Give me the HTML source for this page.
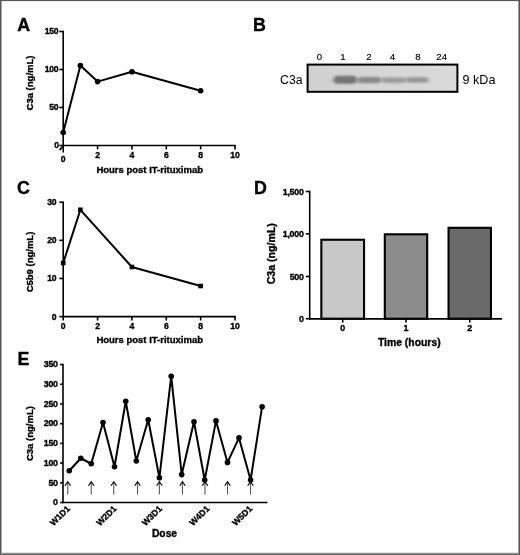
<!DOCTYPE html>
<html lang="en">
<head>
<meta charset="utf-8">
<title>Figure</title>
<style>
html,body{margin:0;padding:0;background:#fff;}
body{width:520px;height:555px;overflow:hidden;position:relative;}
svg{position:absolute;left:0;top:0;font-family:"Liberation Sans", sans-serif;}
</style>
</head>
<body>
<svg width="520" height="555" viewBox="0 0 520 555" style="font-family:'Liberation Sans', sans-serif">
<text x="23.7" y="30.8" font-size="17.8" font-weight="bold" text-anchor="middle" fill="#000" stroke="#000" stroke-width="0.35">A</text>
<line x1="63.2" y1="30.7" x2="63.2" y2="146.3" stroke="#000" stroke-width="1.6" stroke-linecap="butt"/>
<line x1="62.4" y1="145.5" x2="235.8" y2="145.5" stroke="#000" stroke-width="1.6" stroke-linecap="butt"/>
<line x1="59.3" y1="31.5" x2="63.2" y2="31.5" stroke="#000" stroke-width="1.6" stroke-linecap="butt"/>
<text x="58.3" y="33.8" font-size="8.6" font-weight="bold" text-anchor="end" fill="#000" letter-spacing="-0.25" stroke="#000" stroke-width="0.35">150</text>
<line x1="59.3" y1="69.5" x2="63.2" y2="69.5" stroke="#000" stroke-width="1.6" stroke-linecap="butt"/>
<text x="58.3" y="71.8" font-size="8.6" font-weight="bold" text-anchor="end" fill="#000" letter-spacing="-0.25" stroke="#000" stroke-width="0.35">100</text>
<line x1="59.3" y1="107.5" x2="63.2" y2="107.5" stroke="#000" stroke-width="1.6" stroke-linecap="butt"/>
<text x="58.3" y="109.8" font-size="8.6" font-weight="bold" text-anchor="end" fill="#000" letter-spacing="-0.25" stroke="#000" stroke-width="0.35">50</text>
<line x1="59.3" y1="145.5" x2="63.2" y2="145.5" stroke="#000" stroke-width="1.6" stroke-linecap="butt"/>
<text x="58.9" y="148.4" font-size="8.6" font-weight="bold" text-anchor="end" fill="#000" letter-spacing="-0.25" stroke="#000" stroke-width="0.35">0</text>
<line x1="63.2" y1="145.5" x2="63.2" y2="152.5" stroke="#000" stroke-width="1.6" stroke-linecap="butt"/>
<line x1="63.8" y1="145.3" x2="59.6" y2="150.1" stroke="#000" stroke-width="1.6" stroke-linecap="butt"/>
<text x="63.2" y="162.1" font-size="8.6" font-weight="bold" text-anchor="middle" fill="#000" stroke="#000" stroke-width="0.35">0</text>
<line x1="97.56" y1="145.5" x2="97.56" y2="149.4" stroke="#000" stroke-width="1.6" stroke-linecap="butt"/>
<text x="97.56" y="158.2" font-size="8.6" font-weight="bold" text-anchor="middle" fill="#000" stroke="#000" stroke-width="0.35">2</text>
<line x1="131.92" y1="145.5" x2="131.92" y2="149.4" stroke="#000" stroke-width="1.6" stroke-linecap="butt"/>
<text x="131.92" y="158.2" font-size="8.6" font-weight="bold" text-anchor="middle" fill="#000" stroke="#000" stroke-width="0.35">4</text>
<line x1="166.28" y1="145.5" x2="166.28" y2="149.4" stroke="#000" stroke-width="1.6" stroke-linecap="butt"/>
<text x="166.28" y="158.2" font-size="8.6" font-weight="bold" text-anchor="middle" fill="#000" stroke="#000" stroke-width="0.35">6</text>
<line x1="200.64" y1="145.5" x2="200.64" y2="149.4" stroke="#000" stroke-width="1.6" stroke-linecap="butt"/>
<text x="200.64" y="158.2" font-size="8.6" font-weight="bold" text-anchor="middle" fill="#000" stroke="#000" stroke-width="0.35">8</text>
<line x1="235" y1="145.5" x2="235" y2="149.4" stroke="#000" stroke-width="1.6" stroke-linecap="butt"/>
<text x="235" y="158.2" font-size="8.6" font-weight="bold" text-anchor="middle" fill="#000" stroke="#000" stroke-width="0.35">10</text>
<text x="33" y="83" font-size="9.5" font-weight="bold" text-anchor="middle" fill="#000" transform="rotate(-90 33 83)" stroke="#000" stroke-width="0.35">C3a (ng/mL)</text>
<text x="149.7" y="173.3" font-size="9.5" font-weight="bold" text-anchor="middle" fill="#000" stroke="#000" stroke-width="0.35">Hours post IT-rituximab</text>
<polyline points="63.2,132.5 80.38,65.6 97.56,81.6 131.92,71.8 200.64,90.7" fill="none" stroke="#000" stroke-width="2" stroke-linejoin="round"/>
<circle cx="63.2" cy="132.5" r="2.8" fill="#000"/>
<circle cx="80.38" cy="65.6" r="2.8" fill="#000"/>
<circle cx="97.56" cy="81.6" r="2.8" fill="#000"/>
<circle cx="131.92" cy="71.8" r="2.8" fill="#000"/>
<circle cx="200.64" cy="90.7" r="2.8" fill="#000"/>
<text x="23.4" y="194.4" font-size="17.8" font-weight="bold" text-anchor="middle" fill="#000" stroke="#000" stroke-width="0.35">C</text>
<line x1="63.2" y1="201.4" x2="63.2" y2="317.4" stroke="#000" stroke-width="1.6" stroke-linecap="butt"/>
<line x1="62.4" y1="316.6" x2="235.8" y2="316.6" stroke="#000" stroke-width="1.6" stroke-linecap="butt"/>
<line x1="59.3" y1="202.21" x2="63.2" y2="202.21" stroke="#000" stroke-width="1.6" stroke-linecap="butt"/>
<text x="56.4" y="205.16" font-size="8.6" font-weight="bold" text-anchor="end" fill="#000" letter-spacing="-0.25" stroke="#000" stroke-width="0.35">30</text>
<line x1="59.3" y1="240.34" x2="63.2" y2="240.34" stroke="#000" stroke-width="1.6" stroke-linecap="butt"/>
<text x="56.4" y="243.29" font-size="8.6" font-weight="bold" text-anchor="end" fill="#000" letter-spacing="-0.25" stroke="#000" stroke-width="0.35">20</text>
<line x1="59.3" y1="278.47" x2="63.2" y2="278.47" stroke="#000" stroke-width="1.6" stroke-linecap="butt"/>
<text x="56.4" y="281.42" font-size="8.6" font-weight="bold" text-anchor="end" fill="#000" letter-spacing="-0.25" stroke="#000" stroke-width="0.35">10</text>
<line x1="59.3" y1="316.6" x2="63.2" y2="316.6" stroke="#000" stroke-width="1.6" stroke-linecap="butt"/>
<text x="56.4" y="319.55" font-size="8.6" font-weight="bold" text-anchor="end" fill="#000" letter-spacing="-0.25" stroke="#000" stroke-width="0.35">0</text>
<line x1="63.2" y1="316.6" x2="63.2" y2="320.5" stroke="#000" stroke-width="1.6" stroke-linecap="butt"/>
<text x="63.2" y="329.4" font-size="8.6" font-weight="bold" text-anchor="middle" fill="#000" stroke="#000" stroke-width="0.35">0</text>
<line x1="97.56" y1="316.6" x2="97.56" y2="320.5" stroke="#000" stroke-width="1.6" stroke-linecap="butt"/>
<text x="97.56" y="329.4" font-size="8.6" font-weight="bold" text-anchor="middle" fill="#000" stroke="#000" stroke-width="0.35">2</text>
<line x1="131.92" y1="316.6" x2="131.92" y2="320.5" stroke="#000" stroke-width="1.6" stroke-linecap="butt"/>
<text x="131.92" y="329.4" font-size="8.6" font-weight="bold" text-anchor="middle" fill="#000" stroke="#000" stroke-width="0.35">4</text>
<line x1="166.28" y1="316.6" x2="166.28" y2="320.5" stroke="#000" stroke-width="1.6" stroke-linecap="butt"/>
<text x="166.28" y="329.4" font-size="8.6" font-weight="bold" text-anchor="middle" fill="#000" stroke="#000" stroke-width="0.35">6</text>
<line x1="200.64" y1="316.6" x2="200.64" y2="320.5" stroke="#000" stroke-width="1.6" stroke-linecap="butt"/>
<text x="200.64" y="329.4" font-size="8.6" font-weight="bold" text-anchor="middle" fill="#000" stroke="#000" stroke-width="0.35">8</text>
<line x1="235" y1="316.6" x2="235" y2="320.5" stroke="#000" stroke-width="1.6" stroke-linecap="butt"/>
<text x="235" y="329.4" font-size="8.6" font-weight="bold" text-anchor="middle" fill="#000" stroke="#000" stroke-width="0.35">10</text>
<text x="32.5" y="262" font-size="9.5" font-weight="bold" text-anchor="middle" fill="#000" transform="rotate(-90 32.5 262)" stroke="#000" stroke-width="0.35">C5b9 (ng/mL)</text>
<text x="149.7" y="343.2" font-size="9.5" font-weight="bold" text-anchor="middle" fill="#000" stroke="#000" stroke-width="0.35">Hours post IT-rituximab</text>
<polyline points="63.2,263 80.38,209.8 131.92,267 200.64,286" fill="none" stroke="#000" stroke-width="2" stroke-linejoin="round"/>
<rect x="60.9" y="260.7" width="4.6" height="4.6" fill="#000"/>
<rect x="78.08" y="207.5" width="4.6" height="4.6" fill="#000"/>
<rect x="129.62" y="264.7" width="4.6" height="4.6" fill="#000"/>
<rect x="198.34" y="283.7" width="4.6" height="4.6" fill="#000"/>
<text x="259.3" y="30.8" font-size="17.8" font-weight="bold" text-anchor="middle" fill="#000" stroke="#000" stroke-width="0.35">B</text>
<defs><filter id="bl" x="-20%" y="-50%" width="140%" height="200%"><feGaussianBlur stdDeviation="1.6 1.1"/></filter><clipPath id="bc"><rect x="308" y="65" width="149" height="26.5"/></clipPath></defs>
<linearGradient id="bg" x1="0" x2="1" y1="0" y2="0"><stop offset="0" stop-color="#d0d0d0"/><stop offset="0.55" stop-color="#d6d6d6"/><stop offset="1" stop-color="#dadada"/></linearGradient>
<rect x="307.6" y="64.6" width="149.8" height="27.2" fill="url(#bg)"/>
<g clip-path="url(#bc)" filter="url(#bl)">
<rect x="331" y="77.6" width="99" height="5" rx="2.5" fill="#b4b4b4"/>
<rect x="334" y="75.8" width="22.5" height="8" rx="3.5" fill="#747474"/>
<rect x="358" y="77" width="22.5" height="6.2" rx="3" fill="#8a8a8a"/>
<rect x="383" y="77.6" width="22" height="5.4" rx="2.7" fill="#9c9c9c"/>
<rect x="406.5" y="77.2" width="21" height="5.2" rx="2.6" fill="#969696"/>
</g>
<rect x="307.6" y="64.6" width="149.8" height="27.2" fill="none" stroke="#000" stroke-width="2"/>
<text x="319.5" y="60.4" font-size="9.7" font-weight="normal" text-anchor="middle" fill="#000" stroke="#000" stroke-width="0.15">0</text>
<text x="343" y="60.4" font-size="9.7" font-weight="normal" text-anchor="middle" fill="#000" stroke="#000" stroke-width="0.15">1</text>
<text x="369" y="60.4" font-size="9.7" font-weight="normal" text-anchor="middle" fill="#000" stroke="#000" stroke-width="0.15">2</text>
<text x="392.5" y="60.4" font-size="9.7" font-weight="normal" text-anchor="middle" fill="#000" stroke="#000" stroke-width="0.15">4</text>
<text x="418" y="60.4" font-size="9.7" font-weight="normal" text-anchor="middle" fill="#000" stroke="#000" stroke-width="0.15">8</text>
<text x="441.7" y="60.4" font-size="9.7" font-weight="normal" text-anchor="middle" fill="#000" stroke="#000" stroke-width="0.15">24</text>
<text x="280" y="84.3" font-size="12.3" font-weight="normal" text-anchor="start" fill="#000">C3a</text>
<text x="462.5" y="84.3" font-size="12.6" font-weight="normal" text-anchor="start" fill="#000">9 kDa</text>
<text x="260.5" y="194.2" font-size="17.8" font-weight="bold" text-anchor="middle" fill="#000" stroke="#000" stroke-width="0.35">D</text>
<line x1="309.7" y1="190.7" x2="309.7" y2="319.5" stroke="#000" stroke-width="1.6" stroke-linecap="butt"/>
<line x1="308.9" y1="318.7" x2="502" y2="318.7" stroke="#000" stroke-width="1.6" stroke-linecap="butt"/>
<line x1="305.8" y1="191.5" x2="309.7" y2="191.5" stroke="#000" stroke-width="1.6" stroke-linecap="butt"/>
<text x="303.7" y="194.65" font-size="8.9" font-weight="bold" text-anchor="end" fill="#000" letter-spacing="-0.25" stroke="#000" stroke-width="0.35">1,500</text>
<line x1="305.8" y1="233.9" x2="309.7" y2="233.9" stroke="#000" stroke-width="1.6" stroke-linecap="butt"/>
<text x="303.7" y="237.05" font-size="8.9" font-weight="bold" text-anchor="end" fill="#000" letter-spacing="-0.25" stroke="#000" stroke-width="0.35">1,000</text>
<line x1="305.8" y1="276.5" x2="309.7" y2="276.5" stroke="#000" stroke-width="1.6" stroke-linecap="butt"/>
<text x="303.7" y="279.65" font-size="8.9" font-weight="bold" text-anchor="end" fill="#000" letter-spacing="-0.25" stroke="#000" stroke-width="0.35">500</text>
<line x1="305.8" y1="318.7" x2="309.7" y2="318.7" stroke="#000" stroke-width="1.6" stroke-linecap="butt"/>
<text x="303.7" y="321.85" font-size="8.9" font-weight="bold" text-anchor="end" fill="#000" letter-spacing="-0.25" stroke="#000" stroke-width="0.35">0</text>
<rect x="321.35" y="239.75" width="42.7" height="78.95" fill="#c8c8c8" stroke="#000" stroke-width="2.1"/>
<line x1="342.7" y1="318.7" x2="342.7" y2="322.6" stroke="#000" stroke-width="1.6" stroke-linecap="butt"/>
<text x="342.7" y="331" font-size="8.9" font-weight="bold" text-anchor="middle" fill="#000" stroke="#000" stroke-width="0.35">0</text>
<rect x="384.8" y="234.3" width="42.4" height="84.4" fill="#8c8c8c" stroke="#000" stroke-width="2.1"/>
<line x1="406" y1="318.7" x2="406" y2="322.6" stroke="#000" stroke-width="1.6" stroke-linecap="butt"/>
<text x="406" y="331" font-size="8.9" font-weight="bold" text-anchor="middle" fill="#000" stroke="#000" stroke-width="0.35">1</text>
<rect x="448.55" y="227.8" width="42.4" height="90.9" fill="#6a6a6a" stroke="#000" stroke-width="2.1"/>
<line x1="469.75" y1="318.7" x2="469.75" y2="322.6" stroke="#000" stroke-width="1.6" stroke-linecap="butt"/>
<text x="469.75" y="331" font-size="8.9" font-weight="bold" text-anchor="middle" fill="#000" stroke="#000" stroke-width="0.35">2</text>
<line x1="308.9" y1="318.7" x2="502" y2="318.7" stroke="#000" stroke-width="1.6" stroke-linecap="butt"/>
<text x="274.7" y="253.7" font-size="10.6" font-weight="bold" text-anchor="middle" fill="#000" transform="rotate(-90 274.7 253.7)" stroke="#000" stroke-width="0.35">C3a (ng/mL)</text>
<text x="409.3" y="346.4" font-size="10.4" font-weight="bold" text-anchor="middle" fill="#000" stroke="#000" stroke-width="0.35">Time (hours)</text>
<text x="23.5" y="364.6" font-size="17.8" font-weight="bold" text-anchor="middle" fill="#000" stroke="#000" stroke-width="0.35">E</text>
<line x1="63" y1="363.7" x2="63" y2="503.3" stroke="#000" stroke-width="1.6" stroke-linecap="butt"/>
<line x1="62.2" y1="502.5" x2="267.5" y2="502.5" stroke="#000" stroke-width="1.6" stroke-linecap="butt"/>
<line x1="60.1" y1="502.5" x2="63" y2="502.5" stroke="#000" stroke-width="1.6" stroke-linecap="butt"/>
<text x="57.8" y="505.25" font-size="8.9" font-weight="bold" text-anchor="end" fill="#000" letter-spacing="-0.25" stroke="#000" stroke-width="0.35">0</text>
<line x1="60.1" y1="482.79" x2="63" y2="482.79" stroke="#000" stroke-width="1.6" stroke-linecap="butt"/>
<text x="57.8" y="485.54" font-size="8.9" font-weight="bold" text-anchor="end" fill="#000" letter-spacing="-0.25" stroke="#000" stroke-width="0.35">50</text>
<line x1="60.1" y1="463.08" x2="63" y2="463.08" stroke="#000" stroke-width="1.6" stroke-linecap="butt"/>
<text x="57.8" y="465.83" font-size="8.9" font-weight="bold" text-anchor="end" fill="#000" letter-spacing="-0.25" stroke="#000" stroke-width="0.35">100</text>
<line x1="60.1" y1="443.37" x2="63" y2="443.37" stroke="#000" stroke-width="1.6" stroke-linecap="butt"/>
<text x="57.8" y="446.12" font-size="8.9" font-weight="bold" text-anchor="end" fill="#000" letter-spacing="-0.25" stroke="#000" stroke-width="0.35">150</text>
<line x1="60.1" y1="423.66" x2="63" y2="423.66" stroke="#000" stroke-width="1.6" stroke-linecap="butt"/>
<text x="57.8" y="426.41" font-size="8.9" font-weight="bold" text-anchor="end" fill="#000" letter-spacing="-0.25" stroke="#000" stroke-width="0.35">200</text>
<line x1="60.1" y1="403.95" x2="63" y2="403.95" stroke="#000" stroke-width="1.6" stroke-linecap="butt"/>
<text x="57.8" y="406.7" font-size="8.9" font-weight="bold" text-anchor="end" fill="#000" letter-spacing="-0.25" stroke="#000" stroke-width="0.35">250</text>
<line x1="60.1" y1="384.24" x2="63" y2="384.24" stroke="#000" stroke-width="1.6" stroke-linecap="butt"/>
<text x="57.8" y="386.99" font-size="8.9" font-weight="bold" text-anchor="end" fill="#000" letter-spacing="-0.25" stroke="#000" stroke-width="0.35">300</text>
<line x1="60.1" y1="364.53" x2="63" y2="364.53" stroke="#000" stroke-width="1.6" stroke-linecap="butt"/>
<text x="57.8" y="367.28" font-size="8.9" font-weight="bold" text-anchor="end" fill="#000" letter-spacing="-0.25" stroke="#000" stroke-width="0.35">350</text>
<polyline points="69.25,470.75 80.75,458.25 91.25,463.75 103,422.5 114.5,466.75 125.75,401.25 136.3,461 148.2,419.7 159.4,477.8 171.2,376.2 181.7,474.6 194,421.7 204.7,480 216,420.9 227.5,462.4 239,437.9 250.6,480 262.1,406.7" fill="none" stroke="#000" stroke-width="2" stroke-linejoin="round"/>
<circle cx="69.25" cy="470.75" r="2.8" fill="#000"/>
<circle cx="80.75" cy="458.25" r="2.8" fill="#000"/>
<circle cx="91.25" cy="463.75" r="2.8" fill="#000"/>
<circle cx="103" cy="422.5" r="2.8" fill="#000"/>
<circle cx="114.5" cy="466.75" r="2.8" fill="#000"/>
<circle cx="125.75" cy="401.25" r="2.8" fill="#000"/>
<circle cx="136.3" cy="461" r="2.8" fill="#000"/>
<circle cx="148.2" cy="419.7" r="2.8" fill="#000"/>
<circle cx="159.4" cy="477.8" r="2.8" fill="#000"/>
<circle cx="171.2" cy="376.2" r="2.8" fill="#000"/>
<circle cx="181.7" cy="474.6" r="2.8" fill="#000"/>
<circle cx="194" cy="421.7" r="2.8" fill="#000"/>
<circle cx="204.7" cy="480" r="2.8" fill="#000"/>
<circle cx="216" cy="420.9" r="2.8" fill="#000"/>
<circle cx="227.5" cy="462.4" r="2.8" fill="#000"/>
<circle cx="239" cy="437.9" r="2.8" fill="#000"/>
<circle cx="250.6" cy="480" r="2.8" fill="#000"/>
<circle cx="262.1" cy="406.7" r="2.8" fill="#000"/>
<path d="M67.75 494.5V482.2" stroke="#5a5a5a" stroke-width="1.1" fill="none"/>
<path d="M64.95 485.8L67.75 481.7L70.55 485.8" stroke="#000" stroke-width="1.15" fill="none"/>
<path d="M91.25 494.5V482.2" stroke="#5a5a5a" stroke-width="1.1" fill="none"/>
<path d="M88.45 485.8L91.25 481.7L94.05 485.8" stroke="#000" stroke-width="1.15" fill="none"/>
<path d="M113.75 494.5V482.2" stroke="#5a5a5a" stroke-width="1.1" fill="none"/>
<path d="M110.95 485.8L113.75 481.7L116.55 485.8" stroke="#000" stroke-width="1.15" fill="none"/>
<path d="M137.5 494.5V482.2" stroke="#5a5a5a" stroke-width="1.1" fill="none"/>
<path d="M134.7 485.8L137.5 481.7L140.3 485.8" stroke="#000" stroke-width="1.15" fill="none"/>
<path d="M159.4 494.5V482.2" stroke="#5a5a5a" stroke-width="1.1" fill="none"/>
<path d="M156.6 485.8L159.4 481.7L162.2 485.8" stroke="#000" stroke-width="1.15" fill="none"/>
<path d="M182.5 494.5V482.2" stroke="#5a5a5a" stroke-width="1.1" fill="none"/>
<path d="M179.7 485.8L182.5 481.7L185.3 485.8" stroke="#000" stroke-width="1.15" fill="none"/>
<path d="M205 494.5V482.2" stroke="#5a5a5a" stroke-width="1.1" fill="none"/>
<path d="M202.2 485.8L205 481.7L207.8 485.8" stroke="#000" stroke-width="1.15" fill="none"/>
<path d="M227.5 494.5V482.2" stroke="#5a5a5a" stroke-width="1.1" fill="none"/>
<path d="M224.7 485.8L227.5 481.7L230.3 485.8" stroke="#000" stroke-width="1.15" fill="none"/>
<path d="M250.5 494.5V482.2" stroke="#5a5a5a" stroke-width="1.1" fill="none"/>
<path d="M247.7 485.8L250.5 481.7L253.3 485.8" stroke="#000" stroke-width="1.15" fill="none"/>
<text x="70.6" y="509.3" font-size="8.7" font-weight="bold" text-anchor="end" fill="#000" transform="rotate(-45 70.6 509.3)" stroke="#000" stroke-width="0.35">W1D1</text>
<text x="117.1" y="509.3" font-size="8.7" font-weight="bold" text-anchor="end" fill="#000" transform="rotate(-45 117.1 509.3)" stroke="#000" stroke-width="0.35">W2D1</text>
<text x="162.6" y="509.3" font-size="8.7" font-weight="bold" text-anchor="end" fill="#000" transform="rotate(-45 162.6 509.3)" stroke="#000" stroke-width="0.35">W3D1</text>
<text x="210.1" y="509.3" font-size="8.7" font-weight="bold" text-anchor="end" fill="#000" transform="rotate(-45 210.1 509.3)" stroke="#000" stroke-width="0.35">W4D1</text>
<text x="252.8" y="509.3" font-size="8.7" font-weight="bold" text-anchor="end" fill="#000" transform="rotate(-45 252.8 509.3)" stroke="#000" stroke-width="0.35">W5D1</text>
<text x="164.5" y="537.1" font-size="10.3" font-weight="bold" text-anchor="middle" fill="#000" stroke="#000" stroke-width="0.35">Dose</text>
<text x="33.4" y="433.6" font-size="9.5" font-weight="bold" text-anchor="middle" fill="#000" transform="rotate(-90 33.4 433.6)" stroke="#000" stroke-width="0.35">C3a (ng/mL)</text>
<g shape-rendering="crispEdges"><rect x="0" y="0" width="520" height="1" fill="#585858"/><rect x="0" y="1" width="520" height="1" fill="#ececec"/><rect x="0" y="552" width="520" height="1" fill="#e4e4e4"/><rect x="0" y="553" width="520" height="1" fill="#8e8e8e"/><rect x="0" y="554" width="520" height="1" fill="#686868"/><rect x="0" y="0" width="1" height="555" fill="#565656"/><rect x="1" y="1" width="1" height="553" fill="#a8a8a8"/><rect x="518" y="1" width="1" height="553" fill="#9c9c9c"/><rect x="519" y="0" width="1" height="555" fill="#555"/></g>
</svg>
</body>
</html>
